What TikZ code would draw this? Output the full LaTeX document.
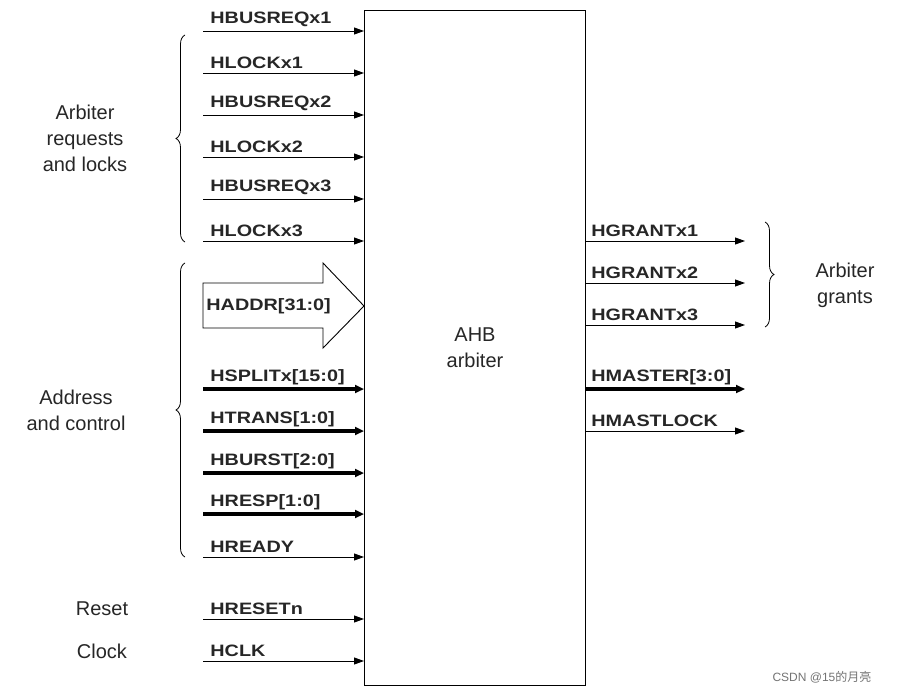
\documentclass[tikz,border=0pt]{standalone}
\usepackage{fontspec}
\setmainfont{Liberation Sans}
\newfontfamily\cjk{Noto Sans CJK SC}
\usetikzlibrary{arrows.meta,decorations.pathreplacing}
\begin{document}
\begin{tikzpicture}[x=1pt,y=-1pt,
  sig/.style={draw,line width=0.9pt,-{Triangle[length=10pt,width=7pt]}},
  bus/.style={draw,line width=3.2pt,-{Triangle[length=9pt,width=8pt]}},
  lab/.style={font=\fontsize{16.5}{16}\selectfont\bfseries,xscale=1.2,anchor=south west,inner sep=1pt,text=black!85},
  grp/.style={font=\fontsize{20}{26}\selectfont,align=center,text=black!85},
  brace/.style={draw,line width=0.8pt,decorate,decoration={brace,amplitude=9pt}}]
\useasboundingbox (0,0) rectangle (900,695);
\node[draw,line width=0.9pt,minimum width=221pt,minimum height=675pt,anchor=north west,inner sep=0] (arb) at (364,10) {};
\node[grp] (arbl) at (475,348) {AHB\\arbiter};
\foreach \n/\t/\y in {a/HBUSREQx1/31,b/HLOCKx1/73,c/HBUSREQx2/115,d/HLOCKx2/157,e/HBUSREQx3/199,f/HLOCKx3/241,g/HREADY/557,h/HRESETn/619,i/HCLK/661}{
  \coordinate (s\n) at (203,\y);
  \draw[sig] (s\n) -- (s\n -| arb.west);
  \node[lab] (l\n) at (209,\y-3) {\t};
}
\foreach \n/\t/\y in {a/HSPLITx[15:0]/389,b/HTRANS[1:0]/431,c/HBURST[2:0]/473,d/HRESP[1:0]/514}{
  \coordinate (b\n) at (203,\y);
  \draw[bus] (b\n) -- (b\n -| arb.west);
  \node[lab] (lb\n) at (209,\y-3) {\t};
}
\foreach \n/\t/\y in {a/HGRANTx1/241,b/HGRANTx2/283,c/HGRANTx3/325,e/HMASTLOCK/431}{
  \coordinate (o\n) at (585,\y);
  \draw[sig] (o\n) -- (745,\y);
  \node[lab] (lo\n) at (590,\y-3) {\t};
}
\coordinate (od) at (585,389);
\draw[bus] (od) -- (745,389);
\node[lab] (lod) at (590,386) {HMASTER[3:0]};
\draw[line width=0.9pt,fill=white] (203,283) -- (323,283) -- (323,263) -- (364,306) -- (323,348) -- (323,328) -- (203,328) -- cycle;
\node[font=\fontsize{16.5}{16}\selectfont\bfseries,xscale=1.2,anchor=west,text=black!85,inner sep=1pt] (haddr) at (205,306) {HADDR[31:0]};
\draw[brace] (185,242) -- (185,35);
\draw[brace] (185,557) -- (185,263);
\draw[brace] (765,222) -- (765,327);
\node[grp] (g1) at (85,138) {Arbiter\\requests\\and locks};
\node[grp] (g2) at (76,410) {Address\\and control};
\node[grp] (g3) at (102,609) {Reset};
\node[grp] (g4) at (102,651) {Clock};
\node[grp] (g5) at (845,285) {Arbiter\\grants};
\node[font=\fontsize{12}{12}\selectfont,text=black!55] (wm) at (822,677) {CSDN @15{\cjk 的月亮}};
\end{tikzpicture}
\end{document}
